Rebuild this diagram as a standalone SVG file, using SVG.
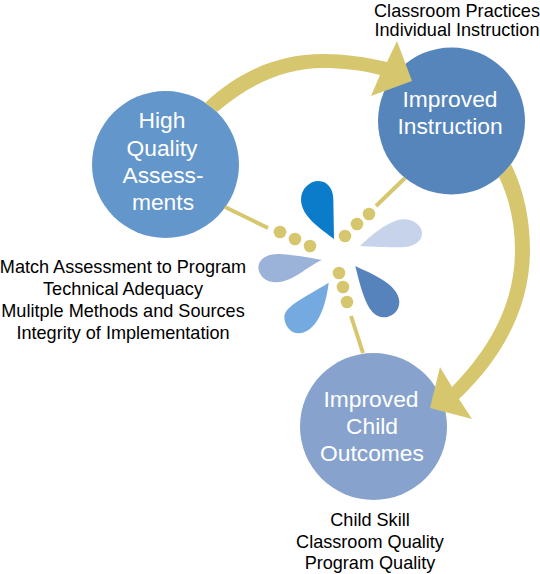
<svg xmlns="http://www.w3.org/2000/svg" width="540" height="574" viewBox="0 0 540 574">
<style>
.lbl{font-family:"Liberation Sans",Arial,sans-serif;font-size:18.1px;fill:#000;text-anchor:middle}
.cap{font-family:"Liberation Sans",Arial,sans-serif;font-size:22.8px;fill:#fff;text-anchor:middle}
.gold{fill:#d6c76f}
.ln{stroke:#d6c76f;stroke-width:4;fill:none}
</style>
<rect width="540" height="574" fill="#fff"/>
<g id="petals" transform="translate(220 170) scale(.33333)">
<path fill="#0a7cc9" d="M342 207C300 175 245 140 243 90C243 55 270 33 295 33C325 33 340 60 340 90Z"/>
<path fill="#c7d3ea" d="M420 228C460 190 510 150 550 148C585 148 606 170 606 190C606 215 580 232 545 232C500 232 460 230 420 228Z"/>
<path fill="#9cb3d9" d="M306 270C260 290 220 335 170 337C135 337 115 315 115 290C118 262 150 250 180 252C220 255 265 262 306 270Z"/>
<path fill="#74aae0" d="M326 338C320 390 300 480 240 490C210 492 193 465 193 440C195 410 240 390 326 338Z"/>
<path fill="#5683bb" d="M406 288C450 310 535 340 538 395C538 425 515 442 490 442C450 440 430 390 406 288Z"/>
</g>
<g id="node-assessments">
<circle cx="165.5" cy="164.5" r="73.5" fill="#6396ca"/>
<text class="cap"><tspan x="162" y="128">High</tspan><tspan x="162" y="156">Quality</tspan><tspan x="163" y="183">Assess-</tspan><tspan x="163" y="210">ments</tspan></text>
</g>
<g id="node-instruction">
<circle cx="451.5" cy="121" r="73.5" fill="#5685bb"/>
<text class="cap"><tspan x="450" y="107">Improved</tspan><tspan x="450" y="134">Instruction</tspan></text>
</g>
<g id="node-outcomes">
<circle cx="373.5" cy="426.5" r="73.5" fill="#87a3cd"/>
<text class="cap"><tspan x="371" y="407">Improved</tspan><tspan x="372" y="434">Child</tspan><tspan x="372" y="461">Outcomes</tspan></text>
</g>
<g id="connectors">
<path class="gold" d="M205 103C240 70 280 54 323 54C345 54 366 57 387 62L397 41L412 81L371 96L380 75C361 70 342 68 323 68C285 68 250 84 217 112A73.5 73.5 0 0 0 205 103Z"/>
<path class="gold" d="M511 164C524 190 530 220 530 250C530 305 505 355 459 399L472 419L430 408L440 367L452 387C493 345 515 300 515 250C515 225 510 200 499 177A73.5 73.5 0 0 0 511 164Z"/>
<path class="ln" d="M225 207L268 228M405 178L376 206M351 316L363 353"/>
<g class="gold">
<circle cx="280" cy="232" r="6.3"/><circle cx="295" cy="239" r="6.3"/><circle cx="310" cy="246" r="6.3"/>
<circle cx="345" cy="236" r="6.3"/><circle cx="357" cy="224" r="6.3"/><circle cx="369" cy="214" r="6.3"/>
<circle cx="339" cy="273" r="6.3"/><circle cx="343" cy="287" r="6.3"/><circle cx="347" cy="302" r="6.3"/>
</g>
</g>
<g id="notes">
<text class="lbl"><tspan x="457" y="17">Classroom Practices</tspan><tspan x="457" y="36">Individual Instruction</tspan></text>
<text class="lbl"><tspan x="123" y="273">Match Assessment to Program</tspan><tspan x="123" y="295">Technical Adequacy</tspan><tspan x="123" y="317">Mulitple Methods and Sources</tspan><tspan x="123" y="339">Integrity of Implementation</tspan></text>
<text class="lbl"><tspan x="370" y="526">Child Skill</tspan><tspan x="370" y="548">Classroom Quality</tspan><tspan x="370" y="569">Program Quality</tspan></text>
</g>
</svg>
